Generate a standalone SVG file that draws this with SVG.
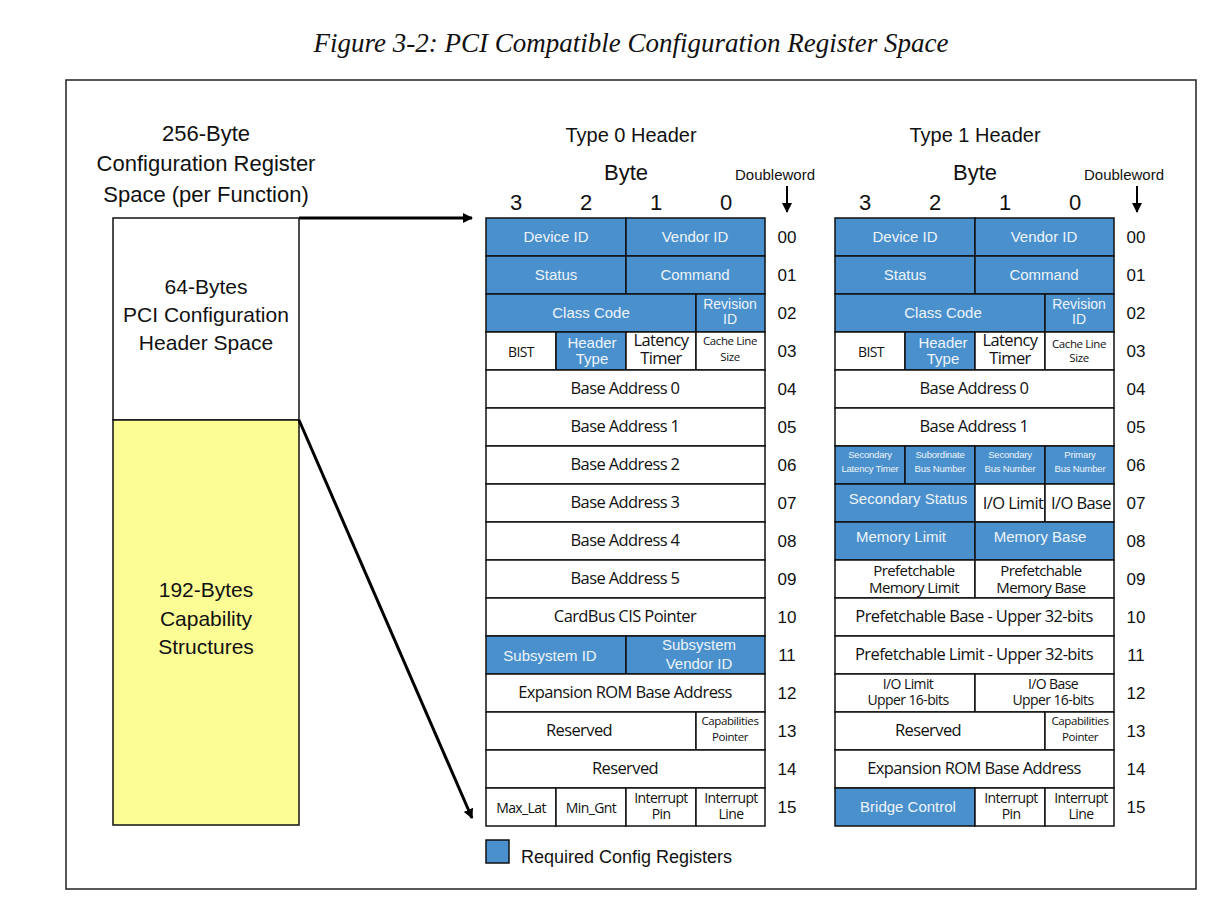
<svg xmlns="http://www.w3.org/2000/svg" width="1212" height="913" viewBox="0 0 1212 913">
<style>
.b{fill:#4a90cd;stroke:#111;stroke-width:1.5}
.w{fill:#fff;stroke:#111;stroke-width:1.5}
.tb{font-family:"Liberation Sans",Arial,sans-serif;font-size:15px;fill:#eef4fa;text-anchor:middle}
.tw{font-family:"Open Sans","Liberation Sans",sans-serif;font-size:16.5px;fill:#111;text-anchor:middle;letter-spacing:-0.6px}
.sm{font-size:14px}
.xs{font-size:11.5px;letter-spacing:-0.4px}
.tiny{font-size:10px}
.h{font-family:"Liberation Sans",Arial,sans-serif;fill:#111;text-anchor:middle}
.st{text-anchor:start}
</style>
<defs><marker id="ar" markerWidth="10" markerHeight="10" refX="9" refY="5" orient="auto" markerUnits="userSpaceOnUse"><path d="M0,0 L10,5 L0,10 z" fill="#000"/></marker></defs>
<rect x="0" y="0" width="1212" height="913" fill="#fff"/>
<text x="631" y="52" font-family="Liberation Serif,serif" font-style="italic" font-size="27" text-anchor="middle" fill="#111">Figure 3-2: PCI Compatible Configuration Register Space</text>
<rect x="66" y="80" width="1130" height="809" fill="none" stroke="#222" stroke-width="1.5"/>
<g id="left">
<text class="h" font-size="22"><tspan x="206" y="141">256-Byte</tspan><tspan x="206" y="171">Configuration Register</tspan><tspan x="206" y="202">Space (per Function)</tspan></text>
<rect x="113" y="218" width="186" height="202" class="w"/>
<rect x="113" y="420" width="186" height="405" fill="#fdfd96" stroke="#111" stroke-width="1.5"/>
<text class="h" font-size="21"><tspan x="206" y="294">64-Bytes</tspan><tspan x="206" y="322">PCI Configuration</tspan><tspan x="206" y="350">Header Space</tspan></text>
<text class="h" font-size="21"><tspan x="206" y="597">192-Bytes</tspan><tspan x="206" y="626">Capability</tspan><tspan x="206" y="654">Structures</tspan></text>
</g>
<g id="connectors" stroke="#000" stroke-width="3">
<line x1="299" y1="218" x2="472" y2="218" marker-end="url(#ar)"/>
<line x1="299" y1="420" x2="472" y2="818" marker-end="url(#ar)"/>
</g>
<g id="type0">
<text class="h" font-size="20" x="631" y="142">Type 0 Header</text>
<text class="h" font-size="22" x="626" y="180">Byte</text>
<text class="h" font-size="22" y="210"><tspan x="516">3</tspan><tspan x="586">2</tspan><tspan x="656">1</tspan><tspan x="726">0</tspan></text>
<text class="h" font-size="15" x="775" y="180">Doubleword</text>
<line x1="787" y1="186" x2="787" y2="212" stroke="#000" stroke-width="2" marker-end="url(#ar)"/>
<rect x="486" y="218" width="140" height="38" class="b"/><rect x="626" y="218" width="139" height="38" class="b"/>
<text class="tb" x="556" y="242">Device ID</text><text class="tb" x="695" y="242">Vendor ID</text>
<rect x="486" y="256" width="140" height="38" class="b"/><rect x="626" y="256" width="139" height="38" class="b"/>
<text class="tb" x="556" y="280">Status</text><text class="tb" x="695" y="280">Command</text>
<rect x="486" y="294" width="210" height="38" class="b"/><rect x="696" y="294" width="69" height="38" class="b"/>
<text class="tb" x="591" y="318">Class Code</text><text class="tb" style="font-size:14px"><tspan x="730" y="309">Revision</tspan><tspan x="730" y="324">ID</tspan></text>
<rect x="486" y="332" width="70" height="38" class="w"/><rect x="556" y="332" width="70" height="38" class="b"/><rect x="626" y="332" width="70" height="38" class="w"/><rect x="696" y="332" width="69" height="38" class="w"/>
<text class="tw sm" x="521" y="357">BIST</text>
<text class="tb"><tspan x="592" y="348">Header</tspan><tspan x="592" y="364">Type</tspan></text>
<text class="tw"><tspan x="661" y="346">Latency</tspan><tspan x="661" y="364">Timer</tspan></text>
<text class="tw xs"><tspan x="730" y="345">Cache Line</tspan><tspan x="730" y="361">Size</tspan></text>
<rect x="486" y="370" width="279" height="38" class="w"/><text class="tw" x="625" y="394">Base Address 0</text>
<rect x="486" y="408" width="279" height="38" class="w"/><text class="tw" x="625" y="432">Base Address 1</text>
<rect x="486" y="446" width="279" height="38" class="w"/><text class="tw" x="625" y="470">Base Address 2</text>
<rect x="486" y="484" width="279" height="38" class="w"/><text class="tw" x="625" y="508">Base Address 3</text>
<rect x="486" y="522" width="279" height="38" class="w"/><text class="tw" x="625" y="546">Base Address 4</text>
<rect x="486" y="560" width="279" height="38" class="w"/><text class="tw" x="625" y="584">Base Address 5</text>
<rect x="486" y="598" width="279" height="38" class="w"/><text class="tw" x="625" y="622">CardBus CIS Pointer</text>
<rect x="486" y="636" width="140" height="38" class="b"/><rect x="626" y="636" width="139" height="38" class="b"/>
<text class="tb" x="550" y="661">Subsystem ID</text><text class="tb"><tspan x="699" y="650">Subsystem</tspan><tspan x="699" y="669">Vendor ID</tspan></text>
<rect x="486" y="674" width="279" height="38" class="w"/><text class="tw" x="625" y="698">Expansion ROM Base Address</text>
<rect x="486" y="712" width="210" height="38" class="w"/><rect x="696" y="712" width="69" height="38" class="w"/>
<text class="tw" x="579" y="736">Reserved</text><text class="tw xs"><tspan x="730" y="725">Capabilities</tspan><tspan x="730" y="741">Pointer</tspan></text>
<rect x="486" y="750" width="279" height="38" class="w"/><text class="tw" x="625" y="774">Reserved</text>
<rect x="486" y="788" width="70" height="38" class="w"/><rect x="556" y="788" width="70" height="38" class="w"/><rect x="626" y="788" width="70" height="38" class="w"/><rect x="696" y="788" width="69" height="38" class="w"/>
<text class="tw sm" x="521" y="813">Max_Lat</text><text class="tw sm" x="591" y="813">Min_Gnt</text>
<text class="tw sm"><tspan x="661" y="803">Interrupt</tspan><tspan x="661" y="819">Pin</tspan></text>
<text class="tw sm"><tspan x="731" y="803">Interrupt</tspan><tspan x="731" y="819">Line</tspan></text>
<text class="h" font-size="17"><tspan x="787" y="243">00</tspan><tspan x="787" y="281">01</tspan><tspan x="787" y="319">02</tspan><tspan x="787" y="357">03</tspan><tspan x="787" y="395">04</tspan><tspan x="787" y="433">05</tspan><tspan x="787" y="471">06</tspan><tspan x="787" y="509">07</tspan><tspan x="787" y="547">08</tspan><tspan x="787" y="585">09</tspan><tspan x="787" y="623">10</tspan><tspan x="787" y="661">11</tspan><tspan x="787" y="699">12</tspan><tspan x="787" y="737">13</tspan><tspan x="787" y="775">14</tspan><tspan x="787" y="813">15</tspan></text>
</g>
<g id="type1">
<text class="h" font-size="20" x="975" y="142">Type 1 Header</text>
<text class="h" font-size="22" x="975" y="180">Byte</text>
<text class="h" font-size="22" y="210"><tspan x="865">3</tspan><tspan x="935">2</tspan><tspan x="1005">1</tspan><tspan x="1075">0</tspan></text>
<text class="h" font-size="15" x="1124" y="180">Doubleword</text>
<line x1="1137" y1="186" x2="1137" y2="212" stroke="#000" stroke-width="2" marker-end="url(#ar)"/>
<rect x="835" y="218" width="140" height="38" class="b"/><rect x="975" y="218" width="139" height="38" class="b"/>
<text class="tb" x="905" y="242">Device ID</text><text class="tb" x="1044" y="242">Vendor ID</text>
<rect x="835" y="256" width="140" height="38" class="b"/><rect x="975" y="256" width="139" height="38" class="b"/>
<text class="tb" x="905" y="280">Status</text><text class="tb" x="1044" y="280">Command</text>
<rect x="835" y="294" width="210" height="38" class="b"/><rect x="1045" y="294" width="69" height="38" class="b"/>
<text class="tb" x="943" y="318">Class Code</text><text class="tb" style="font-size:14px"><tspan x="1079" y="309">Revision</tspan><tspan x="1079" y="324">ID</tspan></text>
<rect x="835" y="332" width="70" height="38" class="w"/><rect x="905" y="332" width="70" height="38" class="b"/><rect x="975" y="332" width="70" height="38" class="w"/><rect x="1045" y="332" width="69" height="38" class="w"/>
<text class="tw sm" x="871" y="357">BIST</text>
<text class="tb"><tspan x="943" y="348">Header</tspan><tspan x="943" y="364">Type</tspan></text>
<text class="tw"><tspan x="1010" y="346">Latency</tspan><tspan x="1010" y="364">Timer</tspan></text>
<text class="tw xs"><tspan x="1079" y="348">Cache Line</tspan><tspan x="1079" y="362">Size</tspan></text>
<rect x="835" y="370" width="279" height="38" class="w"/><text class="tw" x="974" y="394">Base Address 0</text>
<rect x="835" y="408" width="279" height="38" class="w"/><text class="tw" x="974" y="432">Base Address 1</text>
<rect x="835" y="446" width="70" height="38" class="b"/><rect x="905" y="446" width="70" height="38" class="b"/><rect x="975" y="446" width="70" height="38" class="b"/><rect x="1045" y="446" width="69" height="38" class="b"/>
<text class="tb" style="font-size:9.5px;letter-spacing:-0.2px"><tspan x="870" y="458">Secondary</tspan><tspan x="870" y="472">Latency Timer</tspan><tspan x="940" y="458">Subordinate</tspan><tspan x="940" y="472">Bus Number</tspan><tspan x="1010" y="458">Secondary</tspan><tspan x="1010" y="472">Bus Number</tspan><tspan x="1080" y="458">Primary</tspan><tspan x="1080" y="472">Bus Number</tspan></text>
<rect x="835" y="484" width="140" height="38" class="b"/><rect x="975" y="484" width="70" height="38" class="w"/><rect x="1045" y="484" width="69" height="38" class="w"/>
<text class="tb" x="908" y="504">Secondary Status</text><text class="tw" x="1013" y="509">I/O Limit</text><text class="tw" x="1081" y="509">I/O Base</text>
<rect x="835" y="522" width="140" height="38" class="b"/><rect x="975" y="522" width="139" height="38" class="b"/>
<text class="tb" x="901" y="542">Memory Limit</text><text class="tb" x="1040" y="542">Memory Base</text>
<rect x="835" y="560" width="140" height="38" class="w"/><rect x="975" y="560" width="139" height="38" class="w"/>
<text class="tw" style="font-size:15px"><tspan x="914" y="576">Prefetchable</tspan><tspan x="914" y="593">Memory Limit</tspan><tspan x="1041" y="576">Prefetchable</tspan><tspan x="1041" y="593">Memory Base</tspan></text>
<rect x="835" y="598" width="279" height="38" class="w"/><text class="tw" x="974" y="622">Prefetchable Base - Upper 32-bits</text>
<rect x="835" y="636" width="279" height="38" class="w"/><text class="tw" x="974" y="660">Prefetchable Limit - Upper 32-bits</text>
<rect x="835" y="674" width="140" height="38" class="w"/><rect x="975" y="674" width="139" height="38" class="w"/>
<text class="tw sm"><tspan x="908" y="689">I/O Limit</tspan><tspan x="908" y="705">Upper 16-bits</tspan><tspan x="1053" y="689">I/O Base</tspan><tspan x="1053" y="705">Upper 16-bits</tspan></text>
<rect x="835" y="712" width="210" height="38" class="w"/><rect x="1045" y="712" width="69" height="38" class="w"/>
<text class="tw" x="928" y="736">Reserved</text><text class="tw xs"><tspan x="1080" y="725">Capabilities</tspan><tspan x="1080" y="741">Pointer</tspan></text>
<rect x="835" y="750" width="279" height="38" class="w"/><text class="tw" x="974" y="774">Expansion ROM Base Address</text>
<rect x="835" y="788" width="140" height="38" class="b"/><rect x="975" y="788" width="70" height="38" class="w"/><rect x="1045" y="788" width="69" height="38" class="w"/>
<text class="tb" x="908" y="812">Bridge Control</text>
<text class="tw sm"><tspan x="1011" y="803">Interrupt</tspan><tspan x="1011" y="819">Pin</tspan></text>
<text class="tw sm"><tspan x="1081" y="803">Interrupt</tspan><tspan x="1081" y="819">Line</tspan></text>
<text class="h" font-size="17"><tspan x="1136" y="243">00</tspan><tspan x="1136" y="281">01</tspan><tspan x="1136" y="319">02</tspan><tspan x="1136" y="357">03</tspan><tspan x="1136" y="395">04</tspan><tspan x="1136" y="433">05</tspan><tspan x="1136" y="471">06</tspan><tspan x="1136" y="509">07</tspan><tspan x="1136" y="547">08</tspan><tspan x="1136" y="585">09</tspan><tspan x="1136" y="623">10</tspan><tspan x="1136" y="661">11</tspan><tspan x="1136" y="699">12</tspan><tspan x="1136" y="737">13</tspan><tspan x="1136" y="775">14</tspan><tspan x="1136" y="813">15</tspan></text>
</g>
<g id="legend">
<rect x="486" y="840" width="23" height="23" class="b"/>
<text class="h st" font-size="18" x="521" y="863">Required Config Registers</text>
</g>
</svg>
